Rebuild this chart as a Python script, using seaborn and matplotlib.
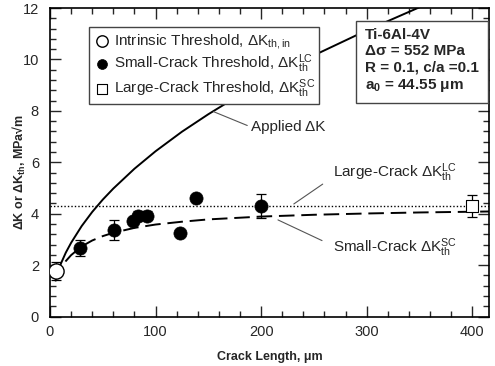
import numpy as np
import pandas as pd
import matplotlib
matplotlib.use('Agg')
import matplotlib.pyplot as plt
import seaborn as sns
from matplotlib.ticker import MultipleLocator

# values
intrinsic_a = [6]
intrinsic_k = [1.78]
intrinsic_err = [0.34]

small_a = [28, 61, 79, 83, 92, 123, 138, 200]
small_k = [2.66, 3.36, 3.70, 3.93, 3.93, 3.27, 4.60, 4.30]
small_err = [0.30, 0.39, 0.0, 0.17, 0.17, 0.0, 0.0, 0.48]

large_a = [400]
large_k = [4.30]
large_err = [0.42]
large_line = 4.3

# applied dK curve
applied_a = [8, 10, 15, 20, 30, 40, 50, 60, 80, 100, 125, 150, 175, 200, 250, 300, 350]
applied_k = [1.82, 2.03, 2.49, 2.87, 3.52, 4.07, 4.55, 4.98, 5.75, 6.43, 7.19, 7.87, 8.50,
             9.09, 10.16, 11.13, 12.03]

# small-crack threshold curve
sc_a = [5, 6, 10, 15, 20, 30, 40, 50, 60, 80, 100, 125, 150, 200, 250, 300, 350, 420]
sc_k = [1.37, 1.48, 1.84, 2.16, 2.39, 2.73, 2.96, 3.13, 3.26, 3.45, 3.58, 3.69, 3.78,
        3.89, 3.96, 4.01, 4.05, 4.09]

sns.set_style('ticks')
plt.rcParams['font.family'] = ['Liberation Sans', 'DejaVu Sans']
plt.rcParams['mathtext.fontset'] = 'custom'
plt.rcParams['mathtext.rm'] = 'Liberation Sans'
plt.rcParams['mathtext.it'] = 'Liberation Sans:italic'
plt.rcParams['mathtext.bf'] = 'Liberation Sans:bold'

fig = plt.figure(figsize=(4.95, 3.66), dpi=100)
ax = fig.add_axes([0.101, 0.135, 0.887, 0.843])

df_app = pd.DataFrame({'a': applied_a, 'k': applied_k})
df_sc = pd.DataFrame({'a': sc_a, 'k': sc_k})

sns.lineplot(data=df_app, x='a', y='k', ax=ax, color='black', lw=1.4, sort=False, estimator=None)
sns.lineplot(data=df_sc, x='a', y='k', ax=ax, color='black', lw=1.4, sort=False, estimator=None,
             linestyle=(0, (8, 3.5)))
ax.axhline(large_line, color='black', ls=(0, (1, 1.5)), lw=1.0)

# error bars
for xs, ys, es in [(intrinsic_a, intrinsic_k, intrinsic_err), (small_a, small_k, small_err),
                   (large_a, large_k, large_err)]:
    ax.errorbar(xs, ys, yerr=es, fmt='none', ecolor='black', elinewidth=0.9, capsize=3.5, capthick=0.9)

sns.scatterplot(x=intrinsic_a, y=intrinsic_k, ax=ax, marker='o', s=120, facecolor='white', edgecolor='black',
                linewidth=1.0, zorder=5, label='Intrinsic Threshold, $\\Delta\\mathrm{K}_{\\mathrm{th,in}}$')
sns.scatterplot(x=small_a, y=small_k, ax=ax, marker='o', s=90, color='black', edgecolor='black',
                linewidth=0.5, zorder=5, label='Small-Crack Threshold, $\\Delta\\mathrm{K}_{\\mathrm{th}}^{\\mathrm{LC}}$')
sns.scatterplot(x=large_a, y=large_k, ax=ax, marker='s', s=75, facecolor='white', edgecolor='black',
                linewidth=0.8, zorder=5, label='Large-Crack Threshold, $\\Delta\\mathrm{K}_{\\mathrm{th}}^{\\mathrm{SC}}$')

ax.set_xlim(0, 416)
ax.set_ylim(0, 12)
ax.xaxis.set_major_locator(MultipleLocator(100))
ax.xaxis.set_minor_locator(MultipleLocator(20))
ax.yaxis.set_major_locator(MultipleLocator(2))
ax.yaxis.set_minor_locator(MultipleLocator(0.4))
ax.tick_params(which='both', direction='in', top=True, right=True, labelsize=10.5, width=1.0)
ax.tick_params(axis='x', pad=6)
ax.tick_params(axis='y', pad=8)
ax.tick_params(which='major', length=8)
ax.tick_params(which='minor', length=4)
for sp in ax.spines.values():
    sp.set_linewidth(1.2)
    sp.set_color('black')

ax.set_xlabel('Crack Length, \u03bcm', fontsize=9, fontweight='bold', labelpad=9)
ax.set_ylabel('\u0394K or \u0394K$_{\\mathbf{th}}$, MPa\u221am', fontsize=9, fontweight='bold')
ax.yaxis.set_label_coords(-0.05, 0.47)

leg = ax.legend(loc='upper left', bbox_to_anchor=(0.089, 0.938), borderaxespad=0, fontsize=11,
                frameon=True, fancybox=False, framealpha=1, edgecolor='#444444',
                handletextpad=0.2, handlelength=1.1, borderpad=0.3, labelspacing=0.12, markerscale=0.75)
leg.get_frame().set_linewidth(1.0)
leg.set_zorder(10)

ax.text(0.7175, 0.935, 'Ti-6Al-4V\n\u0394\u03c3 = 552 MPa\nR = 0.1, c/a =0.1\na$_{\\mathbf{0}}$ = 44.55 \u03bcm',
        transform=ax.transAxes, ha='left', va='top', fontsize=11, fontweight='bold', linespacing=1.2, zorder=11,
        bbox=dict(boxstyle='square,pad=0.6', facecolor='white', edgecolor='#444444', linewidth=1.0))

# annotations with leader lines
ax.annotate('Applied \u0394K', xy=(155, 7.97), xytext=(190, 7.38), fontsize=11, va='center', ha='left',
            arrowprops=dict(arrowstyle='-', color='#555555', lw=0.8, shrinkA=0, shrinkB=0,
                            relpos=(0, 0.5)))
ax.annotate('Large-Crack $\\Delta\\mathrm{K}_{\\mathrm{th}}^{\\mathrm{LC}}$', xy=(231, 4.38), xytext=(268, 5.6),
            fontsize=11, va='center', ha='left',
            arrowprops=dict(arrowstyle='-', color='#555555', lw=0.8, shrinkA=6, shrinkB=0, relpos=(0, 0.3)))
ax.annotate('Small-Crack $\\Delta\\mathrm{K}_{\\mathrm{th}}^{\\mathrm{SC}}$', xy=(216, 3.76), xytext=(268, 2.67),
            fontsize=11, va='center', ha='left',
            arrowprops=dict(arrowstyle='-', color='#555555', lw=0.8, shrinkA=6, shrinkB=0, relpos=(0, 0.6)))

fig.savefig('out.png', dpi=100)
